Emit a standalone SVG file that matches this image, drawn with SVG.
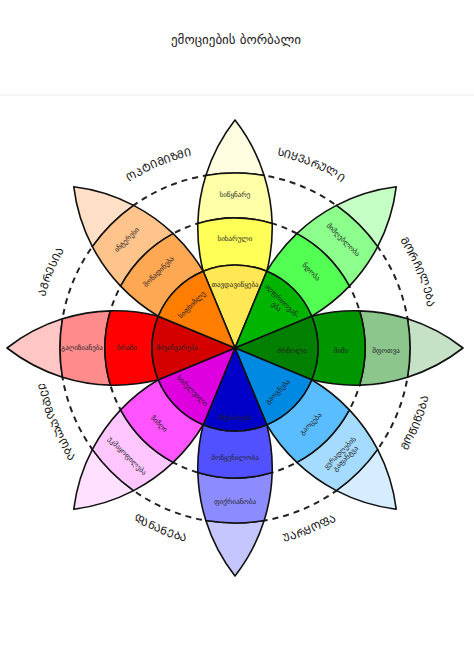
<svg xmlns="http://www.w3.org/2000/svg" xmlns:xlink="http://www.w3.org/1999/xlink" width="474" height="670" viewBox="0 0 474 670">
<style>
.pt{stroke:#111;stroke-width:1.6;stroke-linejoin:round}
.ring{fill:none;stroke:#222;stroke-width:2;stroke-dasharray:6 5}
.lb{font-family:"DejaVu Sans",sans-serif;font-size:7px;fill:#222;text-anchor:middle;dominant-baseline:central}
.ol{font-family:"DejaVu Sans",sans-serif;font-size:11px;fill:#111;text-anchor:middle}
.tt{font-family:"DejaVu Sans",sans-serif;font-size:13px;fill:#222;text-anchor:middle}
</style>
<defs>
<path id="p0" d="M0,0 L76.7,-31.8 A83,83 0 0 1 76.7,31.8 Z"/>
<path id="p1" d="M76.7,-31.8 A83,83 0 0 1 76.7,31.8 A175,175 0 0 0 124.6,37.16 A130,130 0 0 0 124.6,-37.16 A175,175 0 0 0 76.7,-31.8 Z"/>
<path id="p2" d="M124.6,-37.16 A130,130 0 0 1 124.6,37.16 A175,175 0 0 0 172.55,29.16 A175,175 0 0 0 172.55,-29.16 A175,175 0 0 0 124.6,-37.16 Z"/>
<path id="p3" d="M172.55,-29.16 A175,175 0 0 1 172.55,29.16 A175,175 0 0 0 228,0 A175,175 0 0 0 172.55,-29.16 Z"/>
<path id="a1" d="M192.4,155.7 A197,197 0 0 1 401.1,242.2"/>
<path id="a2" d="M340.8,181.8 A197,197 0 0 1 427.3,390.6"/>
<path id="a3" d="M342.5,516.7 A200,200 0 0 0 430.3,304.7"/>
<path id="a4" d="M191.7,543.3 A200,200 0 0 0 403.7,455.5"/>
<path id="a5" d="M66.3,455.5 A200,200 0 0 0 278.3,543.3"/>
<path id="a6" d="M39.7,304.7 A200,200 0 0 0 127.5,516.7"/>
<path id="a7" d="M42.7,390.6 A197,197 0 0 1 129.2,181.8"/>
<path id="a8" d="M68.9,242.2 A197,197 0 0 1 277.6,155.7"/>
</defs>
<rect width="474" height="670" fill="#fff"/>
<line x1="0" y1="95" x2="474" y2="95" stroke="#ececec" stroke-width="1"/>
<text class="tt" x="236" y="44">ემოციების ბორბალი</text>

<g id="connectors">
<circle class="ring" cx="235" cy="348" r="175"/>
<circle class="ring" cx="235" cy="348" r="130"/>
</g>

<g id="joy" transform="translate(235,348) rotate(-90)">
<use href="#p3" class="pt" fill="#fffee0"/><use href="#p2" class="pt" fill="#ffffa8"/><use href="#p1" class="pt" fill="#ffff58"/><use href="#p0" class="pt" fill="#ffe854"/>
</g>
<g id="trust" transform="translate(235,348) rotate(-45)">
<use href="#p3" class="pt" fill="#c6ffc6"/><use href="#p2" class="pt" fill="#8cff8c"/><use href="#p1" class="pt" fill="#54ff54"/><use href="#p0" class="pt" fill="#00b400"/>
</g>
<g id="fear" transform="translate(235,348) rotate(0)">
<use href="#p3" class="pt" fill="#c6e2c6"/><use href="#p2" class="pt" fill="#8cc68c"/><use href="#p1" class="pt" fill="#009600"/><use href="#p0" class="pt" fill="#007f00"/>
</g>
<g id="surprise" transform="translate(235,348) rotate(45)">
<use href="#p3" class="pt" fill="#d6edff"/><use href="#p2" class="pt" fill="#a5dbff"/><use href="#p1" class="pt" fill="#59bdff"/><use href="#p0" class="pt" fill="#0089e0"/>
</g>
<g id="sadness" transform="translate(235,348) rotate(90)">
<use href="#p3" class="pt" fill="#c6c6ff"/><use href="#p2" class="pt" fill="#8c8cff"/><use href="#p1" class="pt" fill="#5151ff"/><use href="#p0" class="pt" fill="#0000c8"/>
</g>
<g id="disgust" transform="translate(235,348) rotate(135)">
<use href="#p3" class="pt" fill="#ffe0ff"/><use href="#p2" class="pt" fill="#ffc6ff"/><use href="#p1" class="pt" fill="#ff54ff"/><use href="#p0" class="pt" fill="#de00de"/>
</g>
<g id="anger" transform="translate(235,348) rotate(180)">
<use href="#p3" class="pt" fill="#ffc6c6"/><use href="#p2" class="pt" fill="#ff8c8c"/><use href="#p1" class="pt" fill="#ff0000"/><use href="#p0" class="pt" fill="#d40000"/>
</g>
<g id="anticipation" transform="translate(235,348) rotate(-135)">
<use href="#p3" class="pt" fill="#ffe0c6"/><use href="#p2" class="pt" fill="#ffc48c"/><use href="#p1" class="pt" fill="#ffa854"/><use href="#p0" class="pt" fill="#ff7d00"/>
</g>

<g id="labels">
<text class="lb" x="235" y="285">თავდავიწყება</text>
<text class="lb" x="235" y="239">სიხარული</text>
<text class="lb" x="235" y="195">სიწყნარე</text>

<text class="lb" transform="translate(279,304) rotate(45)"><tspan x="0" y="-4">აღფრთოვან-</tspan><tspan x="0" y="4">ება</tspan></text>
<text class="lb" transform="translate(311,272) rotate(45)">ნდობა</text>
<text class="lb" transform="translate(343,240) rotate(45)">მიმღებლობა</text>

<text class="lb" x="292" y="351">ძრწოლა</text>
<text class="lb" x="341" y="351">შიში</text>
<text class="lb" x="386" y="351">შფოთვა</text>

<text class="lb" transform="translate(278,392) rotate(-45)">გაოგნება</text>
<text class="lb" transform="translate(311,424) rotate(-45)">გაოცება</text>
<text class="lb" transform="translate(343,456) rotate(-45)"><tspan x="0" y="-4">ყურადღების</tspan><tspan x="0" y="4">გაფანტვა</tspan></text>

<text class="lb" x="235" y="418">მწუხარება</text>
<text class="lb" x="235" y="458">მოწყენილობა</text>
<text class="lb" x="235" y="502">ფიქრიანობა</text>

<text class="lb" transform="translate(192,391) rotate(45)">სიძულვილი</text>
<text class="lb" transform="translate(159,424) rotate(45)">ზიზღი</text>
<text class="lb" transform="translate(127,456) rotate(45)">უკმაყოფილება</text>

<text class="lb" x="177" y="348">მძვინვარება</text>
<text class="lb" x="127" y="348">ბრაზი</text>
<text class="lb" x="82" y="348">გაღიზიანება</text>

<text class="lb" transform="translate(192,305) rotate(-45)">სიფხიზლე</text>
<text class="lb" transform="translate(159,272) rotate(-45)">მოწადინება</text>
<text class="lb" transform="translate(127,240) rotate(-45)">ინტერესი</text>
</g>

<g id="outer-labels">
<text class="ol"><textPath href="#a1" startOffset="50%">ᲡᲘᲧᲕᲐᲠᲣᲚᲘ</textPath></text>
<text class="ol"><textPath href="#a2" startOffset="50%">ᲛᲝᲠᲩᲘᲚᲔᲑᲐ</textPath></text>
<text class="ol"><textPath href="#a3" startOffset="50%">ᲛᲝᲬᲘᲬᲔᲑᲐ</textPath></text>
<text class="ol"><textPath href="#a4" startOffset="50%">ᲣᲐᲠᲧᲝᲤᲐ</textPath></text>
<text class="ol"><textPath href="#a5" startOffset="50%">ᲓᲐᲜᲐᲜᲔᲑᲐ</textPath></text>
<text class="ol"><textPath href="#a6" startOffset="50%">ᲥᲔᲓᲛᲐᲦᲚᲝᲑᲐ</textPath></text>
<text class="ol"><textPath href="#a7" startOffset="50%">ᲐᲒᲠᲔᲡᲘᲐ</textPath></text>
<text class="ol"><textPath href="#a8" startOffset="50%">ᲝᲞᲢᲘᲛᲘᲖᲛᲘ</textPath></text>
</g>
</svg>
